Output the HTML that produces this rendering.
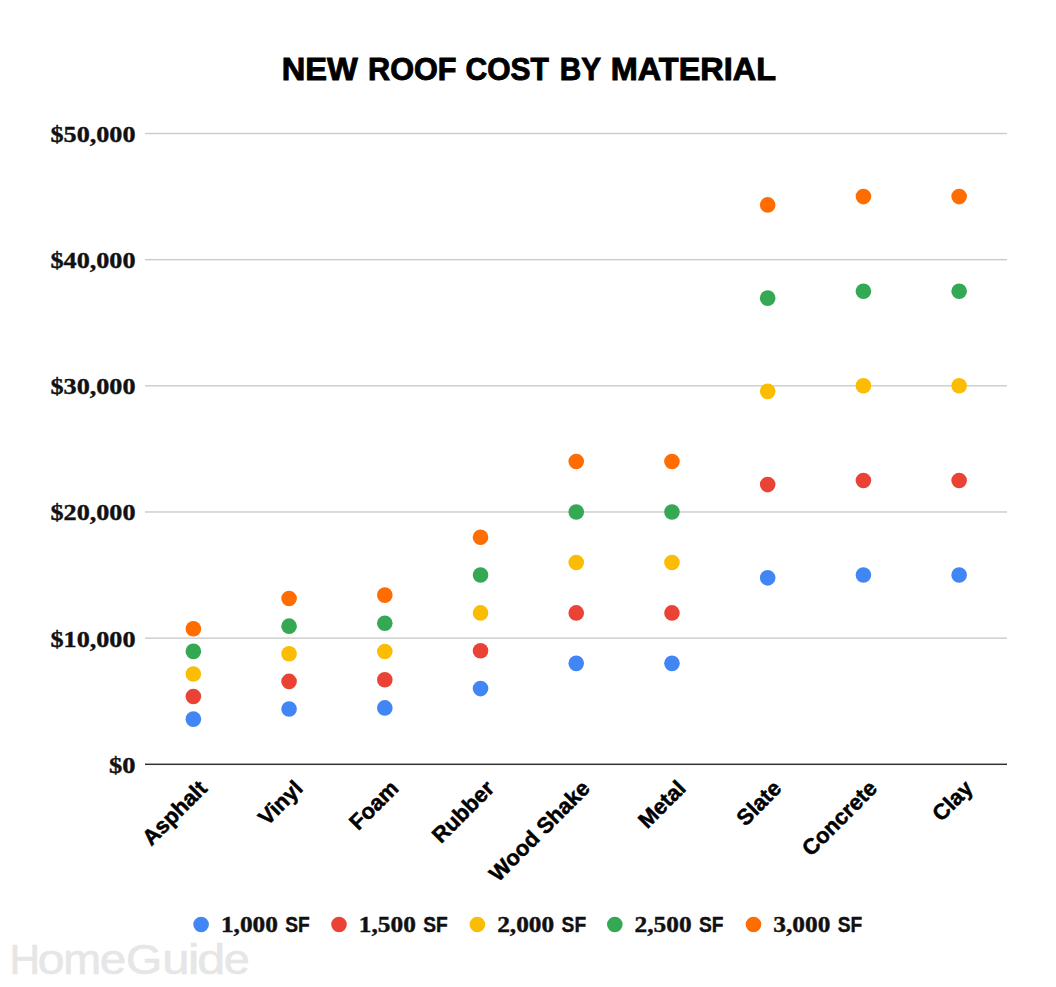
<!DOCTYPE html>
<html><head><meta charset="utf-8">
<style>
html,body{margin:0;padding:0;background:#fff;width:1056px;height:987px;overflow:hidden}
svg{display:block}
.t{font-family:"Liberation Sans",sans-serif;font-weight:bold;font-size:31px;fill:#000;stroke:#000;stroke-width:0.9px}
.yl{font-family:"Liberation Serif",serif;font-weight:bold;font-size:24px;fill:#111;stroke:#111;stroke-width:0.4px;text-anchor:end}
.xl{font-family:"Liberation Sans",sans-serif;font-weight:bold;font-size:22px;fill:#000;stroke:#000;stroke-width:0.5px;text-anchor:end}
.lg{font-family:"Liberation Sans",sans-serif;font-weight:bold;font-size:22px;fill:#111;stroke:#111;stroke-width:0.4px}
.lgn{font-family:"Liberation Serif",serif;font-size:23px}
.wm{font-family:"Liberation Sans",sans-serif;font-size:42px;fill:#e6e6e6;stroke:#e6e6e6;stroke-width:0.6px}
</style></head><body>
<svg width="1056" height="987" viewBox="0 0 1056 987">
<text transform="translate(281.74,80.3) scale(1.0520,1)" class="t">NEW</text><text transform="translate(368.07,80.3) scale(0.9885,1)" class="t">ROOF</text><text transform="translate(465.59,80.3) scale(0.9684,1)" class="t">COST</text><text transform="translate(559.84,80.3) scale(0.9588,1)" class="t">BY</text><text transform="translate(610.85,80.3) scale(1.0462,1)" class="t">MATERIAL</text>
<rect x="145" y="637.44" width="862" height="1.4" fill="#cbcbcb"/>
<rect x="145" y="511.28" width="862" height="1.4" fill="#cbcbcb"/>
<rect x="145" y="385.12" width="862" height="1.4" fill="#cbcbcb"/>
<rect x="145" y="258.96" width="862" height="1.4" fill="#cbcbcb"/>
<rect x="145" y="132.80" width="862" height="1.4" fill="#cbcbcb"/>
<rect x="145" y="763.55" width="862" height="1.5" fill="#333333"/>
<text x="135.5" y="772.80" class="yl" textLength="26.5" lengthAdjust="spacingAndGlyphs">$0</text>
<text x="135.5" y="646.64" class="yl" textLength="85" lengthAdjust="spacingAndGlyphs">$10,000</text>
<text x="135.5" y="520.48" class="yl" textLength="85" lengthAdjust="spacingAndGlyphs">$20,000</text>
<text x="135.5" y="394.32" class="yl" textLength="85" lengthAdjust="spacingAndGlyphs">$30,000</text>
<text x="135.5" y="268.16" class="yl" textLength="85" lengthAdjust="spacingAndGlyphs">$40,000</text>
<text x="135.5" y="142.00" class="yl" textLength="85" lengthAdjust="spacingAndGlyphs">$50,000</text>
<circle cx="193.36" cy="719.13" r="7.8" fill="#4285f4"/>
<circle cx="193.36" cy="696.55" r="7.8" fill="#ea4335"/>
<circle cx="193.36" cy="673.97" r="7.8" fill="#fbbc04"/>
<circle cx="193.36" cy="651.39" r="7.8" fill="#34a853"/>
<circle cx="193.36" cy="628.80" r="7.8" fill="#ff6d01"/>
<circle cx="289.08" cy="709.04" r="7.8" fill="#4285f4"/>
<circle cx="289.08" cy="681.41" r="7.8" fill="#ea4335"/>
<circle cx="289.08" cy="653.78" r="7.8" fill="#fbbc04"/>
<circle cx="289.08" cy="626.15" r="7.8" fill="#34a853"/>
<circle cx="289.08" cy="598.53" r="7.8" fill="#ff6d01"/>
<circle cx="384.81" cy="707.91" r="7.8" fill="#4285f4"/>
<circle cx="384.81" cy="679.71" r="7.8" fill="#ea4335"/>
<circle cx="384.81" cy="651.51" r="7.8" fill="#fbbc04"/>
<circle cx="384.81" cy="623.32" r="7.8" fill="#34a853"/>
<circle cx="384.81" cy="595.12" r="7.8" fill="#ff6d01"/>
<circle cx="480.53" cy="688.60" r="7.8" fill="#4285f4"/>
<circle cx="480.53" cy="650.76" r="7.8" fill="#ea4335"/>
<circle cx="480.53" cy="612.91" r="7.8" fill="#fbbc04"/>
<circle cx="480.53" cy="575.06" r="7.8" fill="#34a853"/>
<circle cx="480.53" cy="537.21" r="7.8" fill="#ff6d01"/>
<circle cx="576.25" cy="663.37" r="7.8" fill="#4285f4"/>
<circle cx="576.25" cy="612.91" r="7.8" fill="#ea4335"/>
<circle cx="576.25" cy="562.44" r="7.8" fill="#fbbc04"/>
<circle cx="576.25" cy="511.98" r="7.8" fill="#34a853"/>
<circle cx="576.25" cy="461.52" r="7.8" fill="#ff6d01"/>
<circle cx="671.97" cy="663.37" r="7.8" fill="#4285f4"/>
<circle cx="671.97" cy="612.91" r="7.8" fill="#ea4335"/>
<circle cx="671.97" cy="562.44" r="7.8" fill="#fbbc04"/>
<circle cx="671.97" cy="511.98" r="7.8" fill="#34a853"/>
<circle cx="671.97" cy="461.52" r="7.8" fill="#ff6d01"/>
<circle cx="767.69" cy="577.84" r="7.8" fill="#4285f4"/>
<circle cx="767.69" cy="484.60" r="7.8" fill="#ea4335"/>
<circle cx="767.69" cy="391.37" r="7.8" fill="#fbbc04"/>
<circle cx="767.69" cy="298.14" r="7.8" fill="#34a853"/>
<circle cx="767.69" cy="204.91" r="7.8" fill="#ff6d01"/>
<circle cx="863.42" cy="575.06" r="7.8" fill="#4285f4"/>
<circle cx="863.42" cy="480.44" r="7.8" fill="#ea4335"/>
<circle cx="863.42" cy="385.82" r="7.8" fill="#fbbc04"/>
<circle cx="863.42" cy="291.20" r="7.8" fill="#34a853"/>
<circle cx="863.42" cy="196.58" r="7.8" fill="#ff6d01"/>
<circle cx="959.14" cy="575.06" r="7.8" fill="#4285f4"/>
<circle cx="959.14" cy="480.44" r="7.8" fill="#ea4335"/>
<circle cx="959.14" cy="385.82" r="7.8" fill="#fbbc04"/>
<circle cx="959.14" cy="291.20" r="7.8" fill="#34a853"/>
<circle cx="959.14" cy="196.58" r="7.8" fill="#ff6d01"/>
<text transform="translate(208.36,789.70) rotate(-45)" class="xl">Asphalt</text>
<text transform="translate(304.08,789.70) rotate(-45)" class="xl">Vinyl</text>
<text transform="translate(399.81,789.70) rotate(-45)" class="xl">Foam</text>
<text transform="translate(495.53,789.70) rotate(-45)" class="xl">Rubber</text>
<text transform="translate(591.25,789.70) rotate(-45)" class="xl">Wood Shake</text>
<text transform="translate(686.97,789.70) rotate(-45)" class="xl">Metal</text>
<text transform="translate(782.69,789.70) rotate(-45)" class="xl">Slate</text>
<text transform="translate(878.42,789.70) rotate(-45)" class="xl">Concrete</text>
<text transform="translate(974.14,789.70) rotate(-45)" class="xl">Clay</text>
<circle cx="201.1" cy="924.5" r="7.8" fill="#4285f4"/>
<text x="220.90" y="931.5" class="lg lgn" textLength="57" lengthAdjust="spacingAndGlyphs">1,000</text>
<text x="285.30" y="931.5" class="lg" textLength="24.5" lengthAdjust="spacingAndGlyphs">SF</text>
<circle cx="339" cy="924.5" r="7.8" fill="#ea4335"/>
<text x="358.80" y="931.5" class="lg lgn" textLength="57" lengthAdjust="spacingAndGlyphs">1,500</text>
<text x="423.20" y="931.5" class="lg" textLength="24.5" lengthAdjust="spacingAndGlyphs">SF</text>
<circle cx="477.4" cy="924.5" r="7.8" fill="#fbbc04"/>
<text x="497.20" y="931.5" class="lg lgn" textLength="57" lengthAdjust="spacingAndGlyphs">2,000</text>
<text x="561.60" y="931.5" class="lg" textLength="24.5" lengthAdjust="spacingAndGlyphs">SF</text>
<circle cx="614.8" cy="924.5" r="7.8" fill="#34a853"/>
<text x="634.60" y="931.5" class="lg lgn" textLength="57" lengthAdjust="spacingAndGlyphs">2,500</text>
<text x="699.00" y="931.5" class="lg" textLength="24.5" lengthAdjust="spacingAndGlyphs">SF</text>
<circle cx="753.5" cy="924.5" r="7.8" fill="#ff6d01"/>
<text x="773.30" y="931.5" class="lg lgn" textLength="57" lengthAdjust="spacingAndGlyphs">3,000</text>
<text x="837.70" y="931.5" class="lg" textLength="24.5" lengthAdjust="spacingAndGlyphs">SF</text>
<text transform="translate(9.57,974.2) scale(1.008,1)" class="wm">H</text><text transform="translate(37.56,974.2) scale(1.162,1)" class="wm">o</text><text transform="translate(63.29,974.2) scale(1.083,1)" class="wm">m</text><text transform="translate(99.80,974.2) scale(1.133,1)" class="wm">e</text><text transform="translate(126.01,974.2) scale(1.107,1)" class="wm">G</text><text transform="translate(162.20,974.2) scale(1.168,1)" class="wm">u</text><text transform="translate(187.86,974.2) scale(1.256,1)" class="wm">i</text><text transform="translate(197.20,974.2) scale(1.201,1)" class="wm">d</text><text transform="translate(223.73,974.2) scale(1.113,1)" class="wm">e</text>
</svg>
</body></html>
